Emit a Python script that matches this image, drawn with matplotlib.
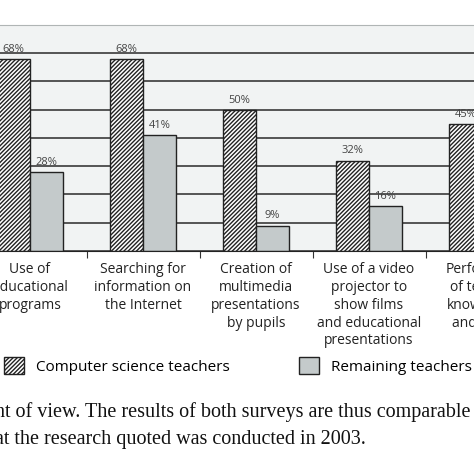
import numpy as np
import matplotlib.pyplot as plt
from matplotlib.patches import Patch

categories = ["Use of\neducational\nprograms",
              "Searching for\ninformation on\nthe Internet",
              "Creation of\nmultimedia\npresentations\nby pupils",
              "Use of a video\nprojector to\nshow films\nand educational\npresentations",
              "Performing\nof tests of\nknowledge\nand skills"]
cs_teachers = [68, 68, 50, 32, 45]
other_teachers = [28, 41, 9, 16, 20]

plt.rcParams['font.family'] = ['Open Sans', 'DejaVu Sans']
plt.rcParams['hatch.linewidth'] = 1.0

fig = plt.figure(figsize=(4.74, 4.74), dpi=100)
ax = fig.add_axes([-26.5 / 474, 223 / 474, 565 / 474, 226 / 474])
ax.set_facecolor('#f1f3f3')

x = np.arange(len(categories))
w = 0.29
ax.set_axisbelow(True)
ax.yaxis.grid(True, color='#3a3a3a', linewidth=1.2)
b1 = ax.bar(x - w / 2, cs_teachers, w, color='white', edgecolor='#222222', hatch='////////', linewidth=1)
b2 = ax.bar(x + w / 2, other_teachers, w, color='#c4cacb', edgecolor='#222222', linewidth=1)
for bars, vals in ((b1, cs_teachers), (b2, other_teachers)):
    for r, v in zip(bars, vals):
        ax.text(r.get_x() + r.get_width() / 2, v + 1.5, f"{v}%", ha='center', va='bottom',
                fontsize=8, color='#444444')

ax.set_xlim(-0.5, 4.5)
ax.set_ylim(0, 80)
ax.set_yticks(np.arange(0, 81, 10))
ax.tick_params(axis='y', length=0, labelleft=False)
ax.set_xticks(np.arange(0.5, 4, 1))
ax.tick_params(axis='x', labelbottom=False, length=5, direction='out', color='#333333')
for s in ('left', 'right'):
    ax.spines[s].set_visible(False)
ax.spines['top'].set_color('#b0b5b5')
ax.spines['bottom'].set_color('#222222')
for xi, c in zip(x, categories):
    ax.text(xi, -4, c, ha='center', va='top', fontsize=10, color='#222222', linespacing=1.25)

fig.legend(handles=[Patch(facecolor='white', edgecolor='#222222', hatch='////////', label='Computer science teachers'),
                    Patch(facecolor='#c4cacb', edgecolor='#222222', label='Remaining teachers')],
           loc='center left', bbox_to_anchor=(-0.02, 0.228), ncol=2, frameon=False, fontsize=11,
           columnspacing=4.5, handlelength=1.3, handleheight=1.3)

fig.text(-0.01, 0.13, "nt of view. The results of both surveys are thus comparable",
         family='Liberation Serif', fontsize=14.5, va='center', color='#111111')
fig.text(-0.01, 0.072, "at the research quoted was conducted in 2003.",
         family='Liberation Serif', fontsize=14.5, va='center', color='#111111')

fig.savefig('out.png', dpi=100)
